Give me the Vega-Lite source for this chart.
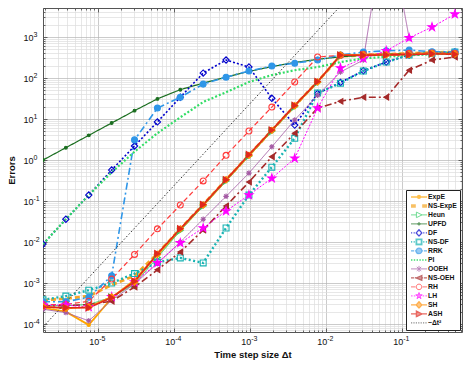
{
"$schema":"https://vega.github.io/schema/vega-lite/v6.json",
"width":419,"height":324,
"autosize":{"type":"none"},
"padding":{"left":43,"top":8,"right":12,"bottom":34},
"background":"white",
"config":{"view":{"stroke":null},"font":"Liberation Sans","axis":{"labelFont":"Liberation Sans","titleFont":"Liberation Sans"}},
"data":{"values":[
{"s":"ExpE","t":1.9073e-6,"e":2.5e-4},{"s":"ExpE","t":3.8147e-6,"e":2.0e-4},{"s":"ExpE","t":7.6294e-6,"e":9.5e-5},{"s":"ExpE","t":1.5259e-5,"e":4.3e-4},{"s":"ExpE","t":3.0518e-5,"e":1.2e-3},{"s":"ExpE","t":6.1035e-5,"e":4.8e-3},{"s":"ExpE","t":1.2207e-4,"e":0.02},{"s":"ExpE","t":2.4414e-4,"e":0.078},{"s":"ExpE","t":4.8828e-4,"e":0.32},{"s":"ExpE","t":9.7656e-4,"e":1.3},{"s":"ExpE","t":1.9531e-3,"e":5.2},{"s":"ExpE","t":3.9063e-3,"e":21},{"s":"ExpE","t":7.8125e-3,"e":80},{"s":"ExpE","t":0.015625,"e":360},{"s":"ExpE","t":0.03125,"e":370},{"s":"ExpE","t":0.0625,"e":380},{"s":"ExpE","t":0.125,"e":390},{"s":"ExpE","t":0.25,"e":400},{"s":"ExpE","t":0.5,"e":390},
{"s":"NS-ExpE","t":1.9073e-6,"e":3.8e-4},{"s":"NS-ExpE","t":3.8147e-6,"e":4.2e-4},{"s":"NS-ExpE","t":7.6294e-6,"e":4.8e-4},{"s":"NS-ExpE","t":1.5259e-5,"e":9e-4},{"s":"NS-ExpE","t":3.0518e-5,"e":1.5e-3},{"s":"NS-ExpE","t":6.1035e-5,"e":5.2e-3},{"s":"NS-ExpE","t":1.2207e-4,"e":0.021},{"s":"NS-ExpE","t":2.4414e-4,"e":0.082},{"s":"NS-ExpE","t":4.8828e-4,"e":0.33},{"s":"NS-ExpE","t":9.7656e-4,"e":1.32},{"s":"NS-ExpE","t":1.9531e-3,"e":5.3},{"s":"NS-ExpE","t":3.9063e-3,"e":21},{"s":"NS-ExpE","t":7.8125e-3,"e":82},{"s":"NS-ExpE","t":0.015625,"e":340},{"s":"NS-ExpE","t":0.03125,"e":360},{"s":"NS-ExpE","t":0.0625,"e":380},{"s":"NS-ExpE","t":0.125,"e":400},{"s":"NS-ExpE","t":0.25,"e":420},{"s":"NS-ExpE","t":0.5,"e":430},
{"s":"Heun","t":1.9073e-6,"e":2.8e-4},{"s":"Heun","t":3.8147e-6,"e":2.8e-4},{"s":"Heun","t":7.6294e-6,"e":3.0e-4},{"s":"Heun","t":1.5259e-5,"e":4.5e-4},{"s":"Heun","t":3.0518e-5,"e":9.5e-4},{"s":"Heun","t":6.1035e-5,"e":4.2e-3},{"s":"Heun","t":1.2207e-4,"e":0.019},{"s":"Heun","t":2.4414e-4,"e":0.076},{"s":"Heun","t":4.8828e-4,"e":0.31},{"s":"Heun","t":9.7656e-4,"e":1.25},{"s":"Heun","t":1.9531e-3,"e":5.0},{"s":"Heun","t":3.9063e-3,"e":20},{"s":"Heun","t":7.8125e-3,"e":78},{"s":"Heun","t":0.015625,"e":350},{"s":"Heun","t":0.03125,"e":360},{"s":"Heun","t":0.0625,"e":370},{"s":"Heun","t":0.125,"e":380},{"s":"Heun","t":0.25,"e":390},{"s":"Heun","t":0.5,"e":390},
{"s":"UPFD","t":1.9073e-6,"e":1},{"s":"UPFD","t":3.8147e-6,"e":2},{"s":"UPFD","t":7.6294e-6,"e":4},{"s":"UPFD","t":1.5259e-5,"e":8},{"s":"UPFD","t":3.0518e-5,"e":16},{"s":"UPFD","t":6.1035e-5,"e":31},{"s":"UPFD","t":1.2207e-4,"e":52},{"s":"UPFD","t":2.4414e-4,"e":75},{"s":"UPFD","t":4.8828e-4,"e":105},{"s":"UPFD","t":9.7656e-4,"e":145},{"s":"UPFD","t":1.9531e-3,"e":190},{"s":"UPFD","t":3.9063e-3,"e":240},{"s":"UPFD","t":7.8125e-3,"e":285},{"s":"UPFD","t":0.015625,"e":330},{"s":"UPFD","t":0.03125,"e":360},{"s":"UPFD","t":0.0625,"e":380},{"s":"UPFD","t":0.125,"e":395},{"s":"UPFD","t":0.25,"e":400},{"s":"UPFD","t":0.5,"e":405},
{"s":"DF","t":1.9073e-6,"e":8.9e-3},{"s":"DF","t":3.8147e-6,"e":0.036},{"s":"DF","t":7.6294e-6,"e":0.14},{"s":"DF","t":1.5259e-5,"e":0.57},{"s":"DF","t":3.0518e-5,"e":2.2},{"s":"DF","t":6.1035e-5,"e":8.5},{"s":"DF","t":1.2207e-4,"e":34},{"s":"DF","t":2.4414e-4,"e":132},{"s":"DF","t":4.8828e-4,"e":275},{"s":"DF","t":9.7656e-4,"e":185},{"s":"DF","t":1.9531e-3,"e":32},{"s":"DF","t":3.9063e-3,"e":7.1},{"s":"DF","t":7.8125e-3,"e":42},{"s":"DF","t":0.015625,"e":78},{"s":"DF","t":0.03125,"e":150},{"s":"DF","t":0.0625,"e":245},{"s":"DF","t":0.125,"e":365},{"s":"DF","t":0.25,"e":400},{"s":"DF","t":0.5,"e":430},
{"s":"NS-DF","t":1.9073e-6,"e":3.9e-4},{"s":"NS-DF","t":3.8147e-6,"e":4.8e-4},{"s":"NS-DF","t":7.6294e-6,"e":6.7e-4},{"s":"NS-DF","t":1.5259e-5,"e":1.0e-3},{"s":"NS-DF","t":3.0518e-5,"e":1.7e-3},{"s":"NS-DF","t":6.1035e-5,"e":3.2e-3},{"s":"NS-DF","t":1.2207e-4,"e":4.1e-3},{"s":"NS-DF","t":2.4414e-4,"e":3.1e-3},{"s":"NS-DF","t":4.8828e-4,"e":0.022},{"s":"NS-DF","t":9.7656e-4,"e":0.14},{"s":"NS-DF","t":1.9531e-3,"e":0.67},{"s":"NS-DF","t":3.9063e-3,"e":3.4},{"s":"NS-DF","t":7.8125e-3,"e":43},{"s":"NS-DF","t":0.015625,"e":75},{"s":"NS-DF","t":0.03125,"e":148},{"s":"NS-DF","t":0.0625,"e":245},{"s":"NS-DF","t":0.125,"e":365},{"s":"NS-DF","t":0.25,"e":400},{"s":"NS-DF","t":0.5,"e":430},
{"s":"RRK","t":1.9073e-6,"e":3.5e-4},{"s":"RRK","t":3.8147e-6,"e":3.5e-4},{"s":"RRK","t":7.6294e-6,"e":4.5e-4},{"s":"RRK","t":1.5259e-5,"e":1.5e-3},{"s":"RRK","t":3.0518e-5,"e":3.1},{"s":"RRK","t":6.1035e-5,"e":18.5},{"s":"RRK","t":1.2207e-4,"e":34},{"s":"RRK","t":2.4414e-4,"e":71},{"s":"RRK","t":4.8828e-4,"e":105},{"s":"RRK","t":9.7656e-4,"e":148},{"s":"RRK","t":1.9531e-3,"e":196},{"s":"RRK","t":3.9063e-3,"e":230},{"s":"RRK","t":7.8125e-3,"e":275},{"s":"RRK","t":0.015625,"e":365},{"s":"RRK","t":0.03125,"e":430},{"s":"RRK","t":0.0625,"e":460},{"s":"RRK","t":0.125,"e":480},{"s":"RRK","t":0.25,"e":440},{"s":"RRK","t":0.5,"e":430},
{"s":"PI","t":1.9073e-6,"e":8.9e-3},{"s":"PI","t":3.8147e-6,"e":0.036},{"s":"PI","t":7.6294e-6,"e":0.14},{"s":"PI","t":1.5259e-5,"e":0.5},{"s":"PI","t":3.0518e-5,"e":1.6},{"s":"PI","t":6.1035e-5,"e":4.5},{"s":"PI","t":1.2207e-4,"e":11},{"s":"PI","t":2.4414e-4,"e":26},{"s":"PI","t":4.8828e-4,"e":45},{"s":"PI","t":9.7656e-4,"e":80},{"s":"PI","t":1.9531e-3,"e":118},{"s":"PI","t":3.9063e-3,"e":155},{"s":"PI","t":7.8125e-3,"e":185},{"s":"PI","t":0.015625,"e":245},{"s":"PI","t":0.03125,"e":300},{"s":"PI","t":0.0625,"e":330},{"s":"PI","t":0.125,"e":360},{"s":"PI","t":0.25,"e":380},{"s":"PI","t":0.5,"e":400},
{"s":"OOEH","t":1.9073e-6,"e":2.3e-4},{"s":"OOEH","t":3.8147e-6,"e":1.9e-4},{"s":"OOEH","t":7.6294e-6,"e":1.2e-4},{"s":"OOEH","t":1.5259e-5,"e":3.8e-4},{"s":"OOEH","t":3.0518e-5,"e":9.5e-4},{"s":"OOEH","t":6.1035e-5,"e":3.0e-3},{"s":"OOEH","t":1.2207e-4,"e":0.01},{"s":"OOEH","t":2.4414e-4,"e":0.036},{"s":"OOEH","t":4.8828e-4,"e":0.13},{"s":"OOEH","t":9.7656e-4,"e":0.48},{"s":"OOEH","t":1.9531e-3,"e":2.1},{"s":"OOEH","t":3.9063e-3,"e":9.5},{"s":"OOEH","t":7.8125e-3,"e":38},{"s":"OOEH","t":0.015625,"e":140},{"s":"OOEH","t":0.03125,"e":275},{"s":"OOEH","t":0.0625,"e":1000000},{"s":"OOEH","t":0.125,"e":950},
{"s":"NS-OEH","t":1.9073e-6,"e":2.8e-4},{"s":"NS-OEH","t":3.8147e-6,"e":2.8e-4},{"s":"NS-OEH","t":7.6294e-6,"e":3.0e-4},{"s":"NS-OEH","t":1.5259e-5,"e":3.6e-4},{"s":"NS-OEH","t":3.0518e-5,"e":8e-4},{"s":"NS-OEH","t":6.1035e-5,"e":2.1e-3},{"s":"NS-OEH","t":1.2207e-4,"e":5.7e-3},{"s":"NS-OEH","t":2.4414e-4,"e":0.0196},{"s":"NS-OEH","t":4.8828e-4,"e":0.076},{"s":"NS-OEH","t":9.7656e-4,"e":0.29},{"s":"NS-OEH","t":1.9531e-3,"e":1.2},{"s":"NS-OEH","t":3.9063e-3,"e":4.5},{"s":"NS-OEH","t":7.8125e-3,"e":18.5},{"s":"NS-OEH","t":0.015625,"e":27},{"s":"NS-OEH","t":0.03125,"e":34},{"s":"NS-OEH","t":0.0625,"e":34},{"s":"NS-OEH","t":0.125,"e":155},{"s":"NS-OEH","t":0.25,"e":275},{"s":"NS-OEH","t":0.5,"e":325},
{"s":"RH","t":1.9073e-6,"e":3.0e-4},{"s":"RH","t":3.8147e-6,"e":3.0e-4},{"s":"RH","t":7.6294e-6,"e":3.6e-4},{"s":"RH","t":1.5259e-5,"e":1.25e-3},{"s":"RH","t":3.0518e-5,"e":5.0e-3},{"s":"RH","t":6.1035e-5,"e":0.021},{"s":"RH","t":1.2207e-4,"e":0.08},{"s":"RH","t":2.4414e-4,"e":0.31},{"s":"RH","t":4.8828e-4,"e":1.3},{"s":"RH","t":9.7656e-4,"e":5.1},{"s":"RH","t":1.9531e-3,"e":19.6},{"s":"RH","t":3.9063e-3,"e":80},{"s":"RH","t":7.8125e-3,"e":325},{"s":"RH","t":0.015625,"e":360},{"s":"RH","t":0.03125,"e":380},{"s":"RH","t":0.0625,"e":390},{"s":"RH","t":0.125,"e":400},{"s":"RH","t":0.25,"e":410},{"s":"RH","t":0.5,"e":400},
{"s":"LH","t":1.9073e-6,"e":2.9e-4},{"s":"LH","t":3.8147e-6,"e":2.9e-4},{"s":"LH","t":7.6294e-6,"e":2.6e-4},{"s":"LH","t":1.5259e-5,"e":4.6e-4},{"s":"LH","t":3.0518e-5,"e":1.05e-3},{"s":"LH","t":6.1035e-5,"e":3.1e-3},{"s":"LH","t":1.2207e-4,"e":9.5e-3},{"s":"LH","t":2.4414e-4,"e":0.022},{"s":"LH","t":4.8828e-4,"e":0.057},{"s":"LH","t":9.7656e-4,"e":0.14},{"s":"LH","t":1.9531e-3,"e":0.36},{"s":"LH","t":3.9063e-3,"e":1.1},{"s":"LH","t":7.8125e-3,"e":18.5},{"s":"LH","t":0.015625,"e":175},{"s":"LH","t":0.03125,"e":300},{"s":"LH","t":0.0625,"e":460},{"s":"LH","t":0.125,"e":950},{"s":"LH","t":0.25,"e":1750},{"s":"LH","t":0.5,"e":3600},
{"s":"SH","t":1.9073e-6,"e":2.7e-4},{"s":"SH","t":3.8147e-6,"e":2.4e-4},{"s":"SH","t":7.6294e-6,"e":2.6e-4},{"s":"SH","t":1.5259e-5,"e":4.6e-4},{"s":"SH","t":3.0518e-5,"e":1.05e-3},{"s":"SH","t":6.1035e-5,"e":5.0e-3},{"s":"SH","t":1.2207e-4,"e":0.021},{"s":"SH","t":2.4414e-4,"e":0.08},{"s":"SH","t":4.8828e-4,"e":0.33},{"s":"SH","t":9.7656e-4,"e":1.3},{"s":"SH","t":1.9531e-3,"e":5.3},{"s":"SH","t":3.9063e-3,"e":21},{"s":"SH","t":7.8125e-3,"e":80},{"s":"SH","t":0.015625,"e":365},{"s":"SH","t":0.03125,"e":365},{"s":"SH","t":0.0625,"e":370},{"s":"SH","t":0.125,"e":375},{"s":"SH","t":0.25,"e":400},{"s":"SH","t":0.5,"e":385},
{"s":"ASH","t":1.9073e-6,"e":2.6e-4},{"s":"ASH","t":3.8147e-6,"e":2.5e-4},{"s":"ASH","t":7.6294e-6,"e":2.5e-4},{"s":"ASH","t":1.5259e-5,"e":4.4e-4},{"s":"ASH","t":3.0518e-5,"e":1.1e-3},{"s":"ASH","t":6.1035e-5,"e":5.2e-3},{"s":"ASH","t":1.2207e-4,"e":0.021},{"s":"ASH","t":2.4414e-4,"e":0.082},{"s":"ASH","t":4.8828e-4,"e":0.33},{"s":"ASH","t":9.7656e-4,"e":1.35},{"s":"ASH","t":1.9531e-3,"e":5.4},{"s":"ASH","t":3.9063e-3,"e":21.5},{"s":"ASH","t":7.8125e-3,"e":82},{"s":"ASH","t":0.015625,"e":360},{"s":"ASH","t":0.03125,"e":360},{"s":"ASH","t":0.0625,"e":365},{"s":"ASH","t":0.125,"e":370},{"s":"ASH","t":0.25,"e":390},{"s":"ASH","t":0.5,"e":380},
{"s":"~Δt²","t":1.9073e-6,"e":8.5e-5},{"s":"~Δt²","t":3.8147e-6,"e":3.4e-4},{"s":"~Δt²","t":7.6294e-6,"e":1.36e-3},{"s":"~Δt²","t":1.5259e-5,"e":5.44e-3},{"s":"~Δt²","t":3.0518e-5,"e":0.0218},{"s":"~Δt²","t":6.1035e-5,"e":0.087},{"s":"~Δt²","t":1.2207e-4,"e":0.348},{"s":"~Δt²","t":2.4414e-4,"e":1.39},{"s":"~Δt²","t":4.8828e-4,"e":5.57},{"s":"~Δt²","t":9.7656e-4,"e":22.3},{"s":"~Δt²","t":1.9531e-3,"e":89.1},{"s":"~Δt²","t":3.9063e-3,"e":356},{"s":"~Δt²","t":7.8125e-3,"e":1426},{"s":"~Δt²","t":0.015625,"e":5704}
]},
"layer":[
{"mark":{"type":"line","clip":true},
 "encoding":{
  "x":{"field":"t","type":"quantitative","scale":{"type":"log","domain":[1.9073e-6,0.62],"nice":false},
   "axis":{"orient":"bottom","values":[2e-6,3e-6,4e-6,5e-6,6e-6,7e-6,8e-6,9e-6,1e-5,2e-5,3e-5,4e-5,5e-5,6e-5,7e-5,8e-5,9e-5,1e-4,2e-4,3e-4,4e-4,5e-4,6e-4,7e-4,8e-4,9e-4,0.001,0.002,0.003,0.004,0.005,0.006,0.007,0.008,0.009,0.01,0.02,0.03,0.04,0.05,0.06,0.07,0.08,0.09,0.1,0.2,0.3,0.4,0.5,0.6],
    "grid":true,"gridColor":{"condition":{"test":"abs(log(datum.value)/LN10 - round(log(datum.value)/LN10)) < 0.000001","value":"#b4b4b4"},"value":"#dcdcdc"},"gridWidth":0.7,
    "ticks":true,"tickSize":{"condition":{"test":"abs(log(datum.value)/LN10 - round(log(datum.value)/LN10)) < 0.000001","value":-4},"value":-2},"tickColor":"#444","tickWidth":0.8,
    "labels":false,"domain":true,"domainColor":"#555","domainWidth":1,"title":null}},
  "y":{"field":"e","type":"quantitative","scale":{"type":"log","domain":[6.4e-5,5100],"nice":false},
   "axis":{"orient":"left","values":[7e-5,8e-5,9e-5,1e-4,2e-4,3e-4,4e-4,5e-4,6e-4,7e-4,8e-4,9e-4,0.001,0.002,0.003,0.004,0.005,0.006,0.007,0.008,0.009,0.01,0.02,0.03,0.04,0.05,0.06,0.07,0.08,0.09,0.1,0.2,0.3,0.4,0.5,0.6,0.7,0.8,0.9,1,2,3,4,5,6,7,8,9,10,20,30,40,50,60,70,80,90,100,200,300,400,500,600,700,800,900,1000,2000,3000,4000,5000],
    "grid":true,"gridColor":{"condition":{"test":"abs(log(datum.value)/LN10 - round(log(datum.value)/LN10)) < 0.000001","value":"#b4b4b4"},"value":"#dcdcdc"},"gridWidth":0.7,
    "ticks":true,"tickSize":{"condition":{"test":"abs(log(datum.value)/LN10 - round(log(datum.value)/LN10)) < 0.000001","value":-4},"value":-2},"tickColor":"#444","tickWidth":0.8,
    "labels":false,"domain":true,"domainColor":"#555","domainWidth":1,"title":null}},
  "color":{"field":"s","type":"nominal","legend":null,"scale":{"domain":["ExpE","NS-ExpE","Heun","UPFD","DF","NS-DF","RRK","PI","OOEH","NS-OEH","RH","LH","SH","ASH","~Δt²"],"range":["#FFA500","#F5A623","#33CC66","#1B6E20","#0000CC","#17B3B3","#2F96E8","#33DD66","#A45AA4","#A52A2A","#FF3B3B","#FF00FF","#FF8C00","#E0281E","#333333"]}},
  "strokeDash":{"field":"s","type":"nominal","legend":null,"scale":{"domain":["ExpE","NS-ExpE","Heun","UPFD","DF","NS-DF","RRK","PI","OOEH","NS-OEH","RH","LH","SH","ASH","~Δt²"],"range":[[1,0],[5,3],[1,0],[1,0],[2,2],[2,2.5],[7,3,2,3],[2,2],[1,0],[7,3,2,3],[5,3],[2,1.5],[1,0],[1,0],[1.5,2]]}},
  "strokeWidth":{"field":"s","type":"nominal","legend":null,"scale":{"type":"ordinal","domain":["ExpE","NS-ExpE","Heun","UPFD","DF","NS-DF","RRK","PI","OOEH","NS-OEH","RH","LH","SH","ASH","~Δt²"],"range":[1.8,2.8,1,1.2,1.6,2.4,1.6,2.2,0.9,1.6,1.2,1,1.6,1.6,1]}}
 }},
{"transform":[{"filter":"indexof(['NS-ExpE','PI','~Δt²'], datum.s) < 0"}],
 "mark":{"type":"point","clip":true,"filled":false,"opacity":1,"strokeWidth":1.1},
 "encoding":{
  "x":{"field":"t","type":"quantitative","axis":{"orient":"bottom","values":[1e-5,1e-4,0.001,0.01,0.1],"grid":false,"ticks":false,"domain":false,"labelExpr":"'10'","labelAlign":"right","labelOffset":1,"labelPadding":5,"labelFontSize":9,"labelColor":"#111","labelBaseline":"top","title":"Time step size Δt","titleFontSize":9.5,"titleFontWeight":"bold","titleColor":"#111","titlePadding":3}},
  "y":{"field":"e","type":"quantitative","axis":{"orient":"left","values":[1e-4,0.001,0.01,0.1,1,10,100,1000],"grid":false,"ticks":false,"domain":false,"labelExpr":"'10'","labelAlign":"right","labelPadding":10,"labelFontSize":9,"labelColor":"#111","labelBaseline":"middle","title":"Errors","titleFontSize":9.5,"titleFontWeight":"bold","titleColor":"#111","titlePadding":6}},
  "color":{"field":"s","type":"nominal","legend":null,"scale":{"domain":["ExpE","NS-ExpE","Heun","UPFD","DF","NS-DF","RRK","PI","OOEH","NS-OEH","RH","LH","SH","ASH","~Δt²"],"range":["#FFA500","#F5A623","#33CC66","#1B6E20","#0000CC","#17B3B3","#2F96E8","#33DD66","#A45AA4","#A52A2A","#FF3B3B","#FF00FF","#FF8C00","#E0281E","#333333"]}},
  "fill":{"field":"s","type":"nominal","legend":null,"scale":{"domain":["ExpE","NS-ExpE","Heun","UPFD","DF","NS-DF","RRK","PI","OOEH","NS-OEH","RH","LH","SH","ASH","~Δt²"],"range":["#FFA500","transparent","transparent","#1B6E20","transparent","transparent","#2F96E8","transparent","transparent","#A52A2A","transparent","#FF00FF","#FF8C00","#E0281E","transparent"]}},
  "shape":{"field":"s","type":"nominal","legend":null,"scale":{"domain":["ExpE","NS-ExpE","Heun","UPFD","DF","NS-DF","RRK","PI","OOEH","NS-OEH","RH","LH","SH","ASH","~Δt²"],"range":["circle","circle","triangle-right","circle","diamond","square","circle","circle","M0,-1L0,1M-1,0L1,0M-0.7,-0.7L0.7,0.7M-0.7,0.7L0.7,-0.7","triangle-left","circle","M0,-1L0.223,-0.307L0.951,-0.309L0.361,0.117L0.588,0.809L0,0.38L-0.588,0.809L-0.361,0.117L-0.951,-0.309L-0.223,-0.307Z","diamond","triangle-right","circle"]}},
  "size":{"field":"s","type":"nominal","legend":null,"scale":{"type":"ordinal","domain":["ExpE","NS-ExpE","Heun","UPFD","DF","NS-DF","RRK","PI","OOEH","NS-OEH","RH","LH","SH","ASH","~Δt²"],"range":[10,10,45,8,40,35,35,10,30,30,35,70,40,40,10]}}
 }},
{"transform":[{"filter":"false"}],
 "mark":{"type":"point"},
 "encoding":{
  "x":{"field":"t","type":"quantitative","axis":{"orient":"bottom","values":[1e-5,1e-4,0.001,0.01,0.1],"grid":false,"ticks":false,"domain":false,"labelExpr":"datum.value < 5e-5 ? '-5' : datum.value < 5e-4 ? '-4' : datum.value < 5e-3 ? '-3' : datum.value < 0.05 ? '-2' : '-1'","labelAlign":"left","labelOffset":1,"labelPadding":2,"labelFontSize":7,"labelColor":"#111","labelBaseline":"top","title":null}},
  "y":{"field":"e","type":"quantitative","axis":{"orient":"left","values":[1e-4,0.001,0.01,0.1,1,10,100,1000],"grid":false,"ticks":false,"domain":false,"labelExpr":"datum.value < 5e-4 ? '-4' : datum.value < 5e-3 ? '-3' : datum.value < 0.05 ? '-2' : datum.value < 0.5 ? '-1' : datum.value < 5 ? '0' : datum.value < 50 ? '1' : datum.value < 500 ? '2' : '3'","labelAlign":"left","labelPadding":10,"labelFontSize":7,"labelColor":"#111","labelBaseline":"bottom","title":null}}
 }},
{"transform":[{"filter":"false"}],
 "mark":{"type":"point","filled":false},
 "encoding":{
  "x":{"field":"t","type":"quantitative","axis":{"orient":"top","values":[2e-6,3e-6,4e-6,5e-6,6e-6,7e-6,8e-6,9e-6,1e-5,2e-5,3e-5,4e-5,5e-5,6e-5,7e-5,8e-5,9e-5,1e-4,2e-4,3e-4,4e-4,5e-4,6e-4,7e-4,8e-4,9e-4,0.001,0.002,0.003,0.004,0.005,0.006,0.007,0.008,0.009,0.01,0.02,0.03,0.04,0.05,0.06,0.07,0.08,0.09,0.1,0.2,0.3,0.4,0.5,0.6],"grid":false,"ticks":true,"tickSize":{"condition":{"test":"abs(log(datum.value)/LN10 - round(log(datum.value)/LN10)) < 0.000001","value":-4},"value":-2},"tickColor":"#444","tickWidth":0.8,"labels":false,"domain":true,"domainColor":"#555","domainWidth":1,"title":null}},
  "y":{"field":"e","type":"quantitative","axis":{"orient":"right","values":[7e-5,8e-5,9e-5,1e-4,2e-4,3e-4,4e-4,5e-4,6e-4,7e-4,8e-4,9e-4,0.001,0.002,0.003,0.004,0.005,0.006,0.007,0.008,0.009,0.01,0.02,0.03,0.04,0.05,0.06,0.07,0.08,0.09,0.1,0.2,0.3,0.4,0.5,0.6,0.7,0.8,0.9,1,2,3,4,5,6,7,8,9,10,20,30,40,50,60,70,80,90,100,200,300,400,500,600,700,800,900,1000,2000,3000,4000,5000],"grid":false,"ticks":true,"tickSize":{"condition":{"test":"abs(log(datum.value)/LN10 - round(log(datum.value)/LN10)) < 0.000001","value":-4},"value":-2},"tickColor":"#444","tickWidth":0.8,"labels":false,"domain":true,"domainColor":"#555","domainWidth":1,"title":null}},
  "color":{"field":"s","type":"nominal","scale":{"domain":["ExpE","NS-ExpE","Heun","UPFD","DF","NS-DF","RRK","PI","OOEH","NS-OEH","RH","LH","SH","ASH","~Δt²"],"range":["#FFA500","#F5A623","#33CC66","#1B6E20","#0000CC","#17B3B3","#2F96E8","#33DD66","#A45AA4","#A52A2A","#FF3B3B","#FF00FF","#FF8C00","#E0281E","#333333"]},
   "legend":{"orient":"bottom-right","offset":2,"title":null,"fillColor":"white","strokeColor":"#222","padding":3,"labelFont":"Liberation Sans","labelFontWeight":"bold","labelFontSize":6.8,"labelColor":"#111","symbolSize":25,"labelOffset":10,"rowPadding":1,"clipHeight":7.8}},
  "fill":{"field":"s","type":"nominal","scale":{"domain":["ExpE","NS-ExpE","Heun","UPFD","DF","NS-DF","RRK","PI","OOEH","NS-OEH","RH","LH","SH","ASH","~Δt²"],"range":["#FFA500","transparent","white","#1B6E20","white","white","#2F96E8","transparent","transparent","#A52A2A","white","#FF00FF","#FF8C00","#E0281E","transparent"]},
   "legend":{"orient":"bottom-right","offset":2,"title":null,"fillColor":"white","strokeColor":"#222","padding":3,"labelFont":"Liberation Sans","labelFontWeight":"bold","labelFontSize":6.8,"labelColor":"#111","symbolSize":25,"labelOffset":10,"rowPadding":1,"clipHeight":7.8}},
  "shape":{"field":"s","type":"nominal","scale":{"domain":["ExpE","NS-ExpE","Heun","UPFD","DF","NS-DF","RRK","PI","OOEH","NS-OEH","RH","LH","SH","ASH","~Δt²"],"range":[
   "M-1,0H5.4M2.76,0A0.56,0.56 0 1,1 1.64,0A0.56,0.56 0 1,1 2.76,0Z",
   "M-1,0H0.92M3.48,0H5.4",
   "M-1,0H1.08M3.32,0H5.4M1.16,-1.12L3.4,0L1.16,1.12Z",
   "M-1,0H5.4M2.68,0A0.48,0.48 0 1,1 1.72,0A0.48,0.48 0 1,1 2.68,0Z",
   "M-1,0H-0.52M0.04,0H0.52M3.88,0H4.36M4.92,0H5.4M2.2,-1.28L3.32,0L2.2,1.28L1.08,0Z",
   "M-1,0H-0.52M0.04,0H0.52M3.88,0H4.36M4.92,0H5.4M1.16,-1.04H3.24V1.04H1.16Z",
   "M-1,0H0.28M0.6,0H0.84M3.56,0H3.8M4.12,0H5.4M3.32,0A1.12,1.12 0 1,1 1.08,0A1.12,1.12 0 1,1 3.32,0Z",
   "M-1,0H-0.44M0.12,0H0.68M1.24,0H1.8M2.36,0H2.92M3.48,0H4.04M4.6,0H5.16",
   "M-1,0H5.4M2.2,-1.2V1.2M1.32,-0.8L3.08,0.8M1.32,0.8L3.08,-0.8",
   "M-1,0H0.28M0.6,0H0.84M3.56,0H3.8M4.12,0H5.4M3.32,-0.96L1.08,0L3.32,0.96Z",
   "M-1,0H0.76M3.64,0H5.4M3.32,0A1.12,1.12 0 1,1 1.08,0A1.12,1.12 0 1,1 3.32,0Z",
   "M-1,0H-0.36M0.12,0H0.76M3.64,0H4.28M4.76,0H5.4M2.2,-1.36L2.504,-0.418L3.493,-0.421L2.691,0.158L3,1.101L2.2,0.517L1.4,1.101L1.709,0.158L0.907,-0.421L1.896,-0.418Z",
   "M-1,0H1.08M3.32,0H5.4M2.2,-1.28L3.32,0L2.2,1.28L1.08,0Z",
   "M-1,0H1.08M3.32,0H5.4M1.16,-1.12L3.4,0L1.16,1.12Z",
   "M-1,0H-0.52M-0.04,0H0.44M0.92,0H1.4M1.88,0H2.36M2.84,0H3.32M3.8,0H4.28M4.76,0H5.24"]},
   "legend":{"orient":"bottom-right","offset":2,"title":null,"fillColor":"white","strokeColor":"#222","padding":3,"labelFont":"Liberation Sans","labelFontWeight":"bold","labelFontSize":6.8,"labelColor":"#111","symbolSize":25,"labelOffset":10,"rowPadding":1,"clipHeight":7.8}},
  "strokeWidth":{"field":"s","type":"nominal","scale":{"type":"ordinal","domain":["ExpE","NS-ExpE","Heun","UPFD","DF","NS-DF","RRK","PI","OOEH","NS-OEH","RH","LH","SH","ASH","~Δt²"],"range":[1.5,3.5,1,1,1.3,1.8,1.3,2,1,1.3,1,1,1.3,1.3,1]},
   "legend":{"orient":"bottom-right","offset":2,"title":null,"fillColor":"white","strokeColor":"#222","padding":3,"labelFont":"Liberation Sans","labelFontWeight":"bold","labelFontSize":6.8,"labelColor":"#111","symbolSize":25,"labelOffset":10,"rowPadding":1,"clipHeight":7.8}}
 }}
],
"resolve":{"axis":{"x":"independent","y":"independent"},"scale":{"color":"independent","fill":"independent","shape":"independent","strokeDash":"independent","strokeWidth":"independent","size":"independent"}}
}
